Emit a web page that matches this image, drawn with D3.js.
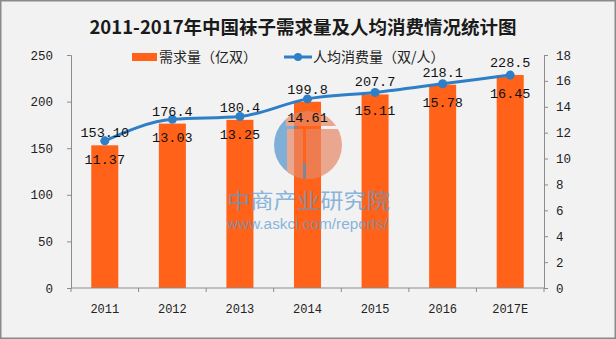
<!DOCTYPE html>
<html>
<head>
<meta charset="utf-8">
<script src="https://cdn.jsdelivr.net/npm/d3@7/dist/d3.min.js"></script>
<style>
  html, body { margin: 0; padding: 0; background: #f2f2f2; }
  svg { display: block; }
</style>
</head>
<body>
<svg id="chart" width="616" height="339"></svg>
<script>
// Sock demand (100 million pairs) and per-capita consumption (pairs/person)
const years = ["2011", "2012", "2013", "2014", "2015", "2016", "2017E"];
const demand = [153.10, 176.4, 180.4, 199.8, 207.7, 218.1, 228.5];
const demandLabels = ["153.10", "176.4", "180.4", "199.8", "207.7", "218.1", "228.5"];
const perCapita = [11.37, 13.03, 13.25, 14.61, 15.11, 15.78, 16.45];
const perCapitaLabels = ["11.37", "13.03", "13.25", "14.61", "15.11", "15.78", "16.45"];
const leftTicks = [0, 50, 100, 150, 200, 250];
const rightTicks = [0, 2, 4, 6, 8, 10, 12, 14, 16, 18];

const W = 616, H = 339;
const margin = { left: 71, right: 72, top: 55, bottom: 51 };
const x0 = margin.left, x1 = W - margin.right;
const yTop = margin.top, yBot = H - margin.bottom;

const orange = "#ff6218";
const blue = "#2e7fc6";
const axisColor = "#8c8c8c";
const monoFont = "'Liberation Mono', 'DejaVu Sans Mono', monospace";
const cjkFont = "'Noto Sans CJK SC', sans-serif";

const svg = d3.select("#chart");

// background and frame
svg.append("rect").attr("x", 0.75).attr("y", 0.75).attr("width", W - 1.5).attr("height", H - 1.5)
  .attr("fill", "#f2f2f2").attr("stroke", "#8a8a8a").attr("stroke-width", 1.5);

const x = d3.scaleBand().domain(years).range([x0, x1]).paddingInner(0.6).paddingOuter(0.3);
const xb = d3.scaleBand().domain(years).range([x0, x1]);
const yL = d3.scaleLinear().domain([0, 250]).range([yBot, yTop]);
const yR = d3.scaleLinear().domain([0, 18]).range([yBot, yTop]);

// title
svg.append("text").attr("x", 303).attr("y", 34).attr("text-anchor", "middle")
  .attr("font-family", cjkFont).attr("font-weight", "bold").attr("font-size", 18.5)
  .attr("fill", "#1a1a1a").text("2011-2017年中国袜子需求量及人均消费情况统计图");

// legend
const lg = svg.append("g");
lg.append("rect").attr("x", 132).attr("y", 53).attr("width", 25).attr("height", 8).attr("fill", orange);
lg.append("text").attr("x", 159).attr("y", 62).attr("font-family", cjkFont).attr("font-size", 14)
  .attr("fill", "#222").text("需求量（亿双）");
lg.append("line").attr("x1", 284).attr("x2", 312).attr("y1", 57).attr("y2", 57)
  .attr("stroke", blue).attr("stroke-width", 3);
lg.append("circle").attr("cx", 298).attr("cy", 57).attr("r", 4).attr("fill", blue);
lg.append("text").attr("x", 313).attr("y", 62).attr("font-family", cjkFont).attr("font-size", 14)
  .attr("fill", "#222").text("人均消费量（双/人）");

// bars
svg.append("g").selectAll("rect").data(years).join("rect")
  .attr("x", d => x(d)).attr("width", x.bandwidth())
  .attr("y", (d, i) => yL(demand[i])).attr("height", (d, i) => yBot - yL(demand[i]))
  .attr("fill", orange);

// watermark logo and text
const wm = svg.append("g").attr("opacity", 0.7);
const cx = 308, cy = 145, r = 34;
const defs = svg.append("defs");
defs.append("clipPath").attr("id", "leftHalf").append("rect")
  .attr("x", cx - r - 2).attr("y", cy - r - 2).attr("width", r + 6).attr("height", 2 * r + 4);
defs.append("clipPath").attr("id", "logoCircle").append("circle")
  .attr("cx", cx).attr("cy", cy).attr("r", r);
const circlePath = (c, rr) => `M${c[0] - rr},${c[1]}a${rr},${rr} 0 1,0 ${2 * rr},0a${rr},${rr} 0 1,0 ${-2 * rr},0Z`;
wm.append("path").attr("d", circlePath([cx, cy], r) + circlePath([cx + 8, cy - 3], 24))
  .attr("fill-rule", "evenodd").attr("fill", "#4f93cc").attr("clip-path", "url(#leftHalf)");
const og = wm.append("g").attr("clip-path", "url(#logoCircle)").attr("fill", "#e88866");
og.append("rect").attr("x", cx - 22).attr("y", cy - r).attr("width", r + 22).attr("height", 15);
og.append("rect").attr("x", cx - 21).attr("y", cy - 16).attr("width", 16).attr("height", r + 16);
og.append("rect").attr("x", cx - 2).attr("y", cy - 16).attr("width", r + 2).attr("height", r + 16);
wm.append("text").attr("x", 227).attr("y", 208).attr("font-family", cjkFont).attr("font-size", 21)
  .attr("fill", "#5b9bd0").attr("textLength", 163).attr("lengthAdjust", "spacingAndGlyphs").text("中商产业研究院");
wm.append("text").attr("x", 227).attr("y", 229).attr("font-family", "'Liberation Sans', Arial, sans-serif")
  .attr("font-size", 14).attr("fill", "#5b9bd0").attr("textLength", 161).attr("lengthAdjust", "spacingAndGlyphs")
  .text("www.askci.com/reports/");

// axes
const axisLeft = d3.axisLeft(yL).tickValues(leftTicks).tickSize(4).tickPadding(14);
const axisRight = d3.axisRight(yR).tickValues(rightTicks).tickSize(4).tickPadding(8);
const styleAxis = g => {
  g.select(".domain").attr("stroke", axisColor);
  g.selectAll(".tick line").attr("stroke", axisColor);
  g.selectAll(".tick text").attr("fill", "#222").attr("font-family", monoFont).attr("font-size", 12.5);
};
svg.append("g").attr("transform", `translate(${x0},0)`).call(axisLeft).call(styleAxis);
svg.append("g").attr("transform", `translate(${x1},0)`).call(axisRight).call(styleAxis);

// category axis with ticks at band boundaries
const xg = svg.append("g");
xg.append("line").attr("x1", x0).attr("x2", x1).attr("y1", yBot).attr("y2", yBot).attr("stroke", axisColor);
const bounds = years.map(d => xb(d)).concat([x1]);
xg.selectAll("line.tk").data(bounds).join("line").attr("class", "tk")
  .attr("x1", d => d).attr("x2", d => d).attr("y1", yBot).attr("y2", yBot + 4).attr("stroke", axisColor);
xg.selectAll("text").data(years).join("text")
  .attr("x", d => xb(d) + xb.bandwidth() / 2).attr("y", 313).attr("text-anchor", "middle")
  .attr("font-family", monoFont).attr("font-size", 12).attr("fill", "#222").text(d => d);

// per-capita line
const pts = years.map((d, i) => [x(d) + x.bandwidth() / 2, yR(perCapita[i])]);
svg.append("path").attr("d", d3.line().curve(d3.curveMonotoneX)(pts))
  .attr("fill", "none").attr("stroke", blue).attr("stroke-width", 3);
svg.append("g").selectAll("circle").data(pts).join("circle")
  .attr("cx", d => d[0]).attr("cy", d => d[1]).attr("r", 4.5).attr("fill", blue);

// data labels
svg.append("g").selectAll("text").data(years).join("text")
  .attr("x", d => x(d) + x.bandwidth() / 2).attr("y", (d, i) => yL(demand[i]) - 8)
  .attr("text-anchor", "middle").attr("font-family", monoFont).attr("font-size", 13.5)
  .attr("fill", "#111").text((d, i) => demandLabels[i]);
svg.append("g").selectAll("text").data(years).join("text")
  .attr("x", d => x(d) + x.bandwidth() / 2).attr("y", (d, i) => yR(perCapita[i]) + 23)
  .attr("text-anchor", "middle").attr("font-family", monoFont).attr("font-size", 13.5)
  .attr("fill", "#111").text((d, i) => perCapitaLabels[i]);
</script>
</body>
</html>
